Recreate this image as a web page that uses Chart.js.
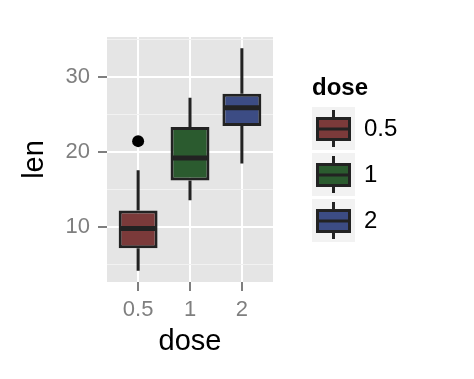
<!DOCTYPE html>
<html>
<head>
<meta charset="utf-8">
<script src="https://cdn.jsdelivr.net/npm/chart.js@4.4.1/dist/chart.umd.min.js"></script>
<style>
  body { margin: 0; background: #fff; }
  #wrap { width: 474px; height: 379px; }
</style>
</head>
<body>
<div id="wrap"><canvas id="box" width="474" height="379"></canvas></div>
<script>
// ToothGrowth len by dose, box stats
const doses = ["0.5", "1", "2"]
const lenMin = [4.2, 13.6, 18.5]
const lenQ1 = [7.225, 16.25, 23.525]
const lenMedian = [9.85, 19.25, 25.95]
const lenQ3 = [12.25, 23.375, 27.825]
const lenMax = [17.6, 27.3, 33.9]
const outliers = [{ dose: 0, len: 21.5 }]
const yTicks = [5, 10, 15, 20, 25, 30, 35]
const xTicks = [1, 2, 3]

const fills = ["#7b3a3a", "#2b5b2f", "#3c4c84"]
const edge = "#222222"
const boxWidth = 0.75

const panelBg = {
  id: "panelBg",
  beforeDraw(chart) {
    const { ctx, chartArea: a } = chart
    ctx.save()
    ctx.fillStyle = "#e5e5e5"
    ctx.fillRect(a.left, a.top, a.right - a.left, a.bottom - a.top)
    ctx.restore()
  }
}

// whiskers + medians on top of the floating bars
const boxExtras = {
  id: "boxExtras",
  afterDatasetsDraw(chart) {
    const { ctx, scales: { x, y } } = chart
    ctx.save()
    ctx.strokeStyle = edge
    ctx.lineCap = "butt"
    doses.forEach((d, i) => {
      const px = x.getPixelForValue(i + 1)
      const hw = x.getPixelForValue(i + 1 + boxWidth / 2) - px
      ctx.lineWidth = 3
      ctx.beginPath()
      ctx.moveTo(px, y.getPixelForValue(lenQ3[i]))
      ctx.lineTo(px, y.getPixelForValue(lenMax[i]))
      ctx.moveTo(px, y.getPixelForValue(lenQ1[i]))
      ctx.lineTo(px, y.getPixelForValue(lenMin[i]))
      ctx.stroke()
      ctx.lineWidth = 5
      ctx.beginPath()
      ctx.moveTo(px - hw + 1, y.getPixelForValue(lenMedian[i]))
      ctx.lineTo(px + hw - 1, y.getPixelForValue(lenMedian[i]))
      ctx.stroke()
    })
    ctx.restore()
  }
}

// ggplot style legend with little boxplot keys
const boxLegend = {
  id: "boxLegend",
  afterDraw(chart) {
    const { ctx, chartArea: a } = chart
    const x0 = a.right + 39
    const key = 43, step = 46, top0 = 107
    ctx.save()
    ctx.fillStyle = "#000"
    ctx.font = "bold 24px 'Liberation Sans', Arial, sans-serif"
    ctx.textBaseline = "middle"
    ctx.textAlign = "left"
    ctx.fillText("dose", x0, 88)
    doses.forEach((d, i) => {
      const t = top0 + i * step
      ctx.fillStyle = "#f2f2f2"
      ctx.fillRect(x0, t, key, key)
      const cx = x0 + key / 2
      ctx.strokeStyle = edge
      ctx.lineWidth = 3
      ctx.beginPath()
      ctx.moveTo(cx, t + 3); ctx.lineTo(cx, t + 10)
      ctx.moveTo(cx, t + 34); ctx.lineTo(cx, t + key - 3)
      ctx.stroke()
      ctx.fillStyle = fills[i]
      ctx.fillRect(x0 + 4, t + 10, key - 8, 24)
      ctx.strokeRect(x0 + 4 + 1.5, t + 10 + 1.5, key - 8 - 3, 24 - 3)
      ctx.lineWidth = 3
      ctx.beginPath()
      ctx.moveTo(x0 + 5, t + 22); ctx.lineTo(x0 + key - 5, t + 22)
      ctx.stroke()
      ctx.fillStyle = "#000"
      ctx.font = "24px 'Liberation Sans', Arial, sans-serif"
      ctx.fillText(d, x0 + 52, t + key / 2 + 1)
    })
    ctx.restore()
  }
}

const tickFont = { family: "'Liberation Sans', Arial, sans-serif", size: 22 }
const titleFont = { family: "'Liberation Sans', Arial, sans-serif", size: 29 }

new Chart(document.getElementById("box"), {
  type: "bar",
  data: {
    datasets: [
      {
        type: "bar",
        data: doses.map((d, i) => ({ x: i + 1, y: [lenQ1[i], lenQ3[i]] })),
        backgroundColor: fills,
        borderColor: edge,
        borderWidth: 3,
        borderSkipped: false,
        barPercentage: boxWidth,
        categoryPercentage: 1
      },
      {
        type: "scatter",
        data: outliers.map(o => ({ x: o.dose + 1, y: o.len })),
        pointRadius: 6,
        pointBackgroundColor: "#000",
        pointBorderWidth: 0
      }
    ]
  },
  options: {
    responsive: false,
    animation: false,
    layout: { padding: { top: 37, right: 201, bottom: 0, left: 0 } },
    plugins: { legend: { display: false }, tooltip: { enabled: false } },
    scales: {
      x: {
        type: "linear",
        min: 0.4,
        max: 3.6,
        offset: false,
        afterBuildTicks: s => { s.ticks = xTicks.map(v => ({ value: v })) },
        afterFit: s => { s.height = 97 },
        ticks: {
          callback: v => doses[v - 1],
          color: "#7f7f7f",
          font: tickFont,
          padding: 6,
          maxRotation: 0,
          autoSkip: false
        },
        grid: {
          offset: false,
          color: "#ffffff",
          lineWidth: 2,
          tickColor: "#7f7f7f",
          tickLength: 9,
          tickWidth: 2
        },
        border: { display: false },
        title: { display: true, text: "dose", color: "#000", font: titleFont, padding: { top: 0, bottom: 20 } }
      },
      y: {
        min: 2.715,
        max: 35.385,
        afterBuildTicks: s => { s.ticks = yTicks.map(v => ({ value: v })) },
        afterFit: s => { s.width = 107 },
        ticks: {
          callback: v => (v % 10 === 0 ? v : ""),
          color: "#7f7f7f",
          font: tickFont,
          padding: 8
        },
        grid: {
          color: c => (c.tick && c.tick.value % 10 === 0 ? "#ffffff" : "#f2f2f2"),
          lineWidth: c => (c.tick && c.tick.value % 10 === 0 ? 2 : 1),
          tickColor: c => (c.tick && c.tick.value % 10 === 0 ? "#7f7f7f" : "rgba(0,0,0,0)"),
          tickLength: 9,
          tickWidth: 2
        },
        border: { display: false },
        title: { display: true, text: "len", color: "#000", font: titleFont, padding: { top: 18, bottom: 0 } }
      }
    }
  },
  plugins: [panelBg, boxExtras, boxLegend]
})
</script>
</body>
</html>
